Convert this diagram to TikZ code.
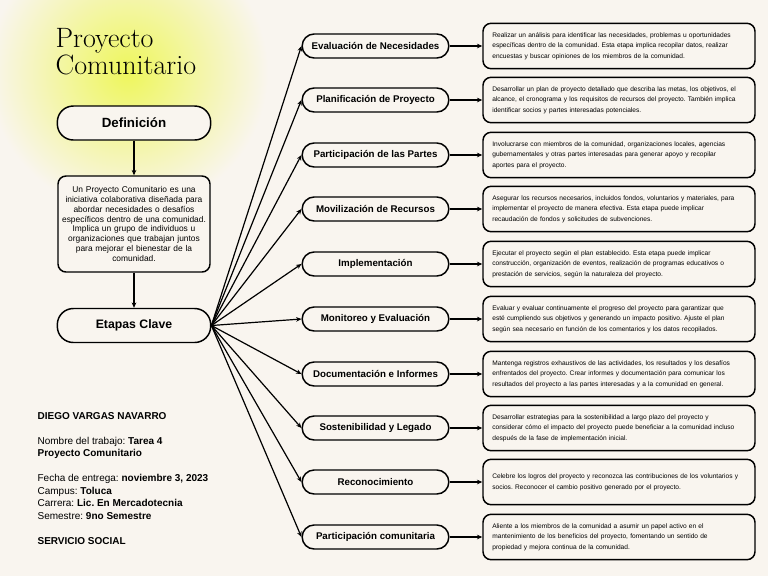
\documentclass[tikz,border=0pt]{standalone}
\usepackage{fontspec}
\setmainfont{Liberation Sans}
\newfontfamily\titlefont{Latin Modern Roman}
\usepackage{xcolor}
\usetikzlibrary{arrows.meta,positioning}

\definecolor{paper}{RGB}{249,245,239}
\definecolor{glow}{RGB}{238,246,92}

\frenchspacing
\begin{document}
\begin{tikzpicture}[
  x=0.75pt, y=-0.75pt,
  line width=0.9pt,
  pill/.style={draw, fill=paper, line width=1.1pt, rounded corners=12pt, minimum width=115pt, minimum height=25.5pt, font=\fontsize{10}{12}\selectfont\bfseries},
  etapa/.style={draw, fill=paper, line width=1.1pt, rounded corners=9pt, minimum width=110pt, minimum height=18pt, inner sep=1pt, font=\fontsize{7.3}{9}\selectfont\bfseries},
  detalle/.style={draw, fill=paper, line width=1.1pt, rounded corners=6pt, minimum width=204pt, minimum height=34pt, text width=190pt, align=left, inner sep=3pt, font=\fontsize{4.95}{8}\selectfont},
  arrow/.style={-{Stealth[length=4pt,width=3.5pt]}}
]
\useasboundingbox (0,0) rectangle (768,576);
\fill[paper] (0,0) rectangle (768,576);
\shade[inner color=glow, outer color=paper] (128,72) circle (140);

% titulo
\node[anchor=north west, align=left, inner sep=0pt, font=\titlefont\fontsize{21}{19.8}\selectfont] (titulo) at (55,28) {Proyecto\\Comunitario};

% columna izquierda
\node[pill] (definicion) at (134,123) {Definición};
\node[draw, fill=paper, line width=1.1pt, rounded corners=6pt, minimum width=114pt, minimum height=72pt, text width=113pt, align=center, inner sep=0.5pt, font=\fontsize{6.3}{7.4}\selectfont] (texto) at (134,224)
  {Un Proyecto Comunitario es una\\iniciativa colaborativa diseñada para\\abordar necesidades o desafíos\\específicos dentro de una comunidad.\\Implica un grupo de individuos u\\organizaciones que trabajan juntos\\para mejorar el bienestar de la\\comunidad.};
\node[pill, font=\fontsize{9.2}{11}\selectfont\bfseries] (etapas) at (134,325.5) {Etapas Clave};

\draw[arrow] (definicion.south) -- (texto.north);
\draw[arrow] (texto.south) -- (etapas.north);

% etapas
\node[etapa] (e1) at (375.5,46) {Evaluación de Necesidades};
\node[etapa] (e2) at (375.5,100) {Planificación de Proyecto};
\node[etapa] (e3) at (375.5,155) {Participación de las Partes};
\node[etapa] (e4) at (375.5,209) {Movilización de Recursos};
\node[etapa] (e5) at (375.5,264) {Implementación};
\node[etapa] (e6) at (375.5,319) {Monitoreo y Evaluación};
\node[etapa] (e7) at (375.5,374) {Documentación e Informes};
\node[etapa] (e8) at (375.5,428) {Sostenibilidad y Legado};
\node[etapa] (e9) at (375.5,482) {Reconocimiento};
\node[etapa] (e10) at (375.5,537) {Participación comunitaria};

% descripciones
\node[detalle] (d1) at (619,46) {Realizar un análisis para identificar las necesidades, problemas u oportunidades\\específicas dentro de la comunidad. Esta etapa implica recopilar datos, realizar\\encuestas y buscar opiniones de los miembros de la comunidad.};
\node[detalle] (d2) at (619,100) {Desarrollar un plan de proyecto detallado que describa las metas, los objetivos, el\\alcance, el cronograma y los requisitos de recursos del proyecto. También implica\\identificar socios y partes interesadas potenciales.};
\node[detalle] (d3) at (619,155) {Involucrarse con miembros de la comunidad, organizaciones locales, agencias\\gubernamentales y otras partes interesadas para generar apoyo y recopilar\\aportes para el proyecto.};
\node[detalle] (d4) at (619,209) {Asegurar los recursos necesarios, incluidos fondos, voluntarios y materiales, para\\implementar el proyecto de manera efectiva. Esta etapa puede implicar\\recaudación de fondos y solicitudes de subvenciones.};
\node[detalle] (d5) at (619,264) {Ejecutar el proyecto según el plan establecido. Esta etapa puede implicar\\construcción, organización de eventos, realización de programas educativos o\\prestación de servicios, según la naturaleza del proyecto.};
\node[detalle] (d6) at (619,319) {Evaluar y evaluar continuamente el progreso del proyecto para garantizar que\\esté cumpliendo sus objetivos y generando un impacto positivo. Ajuste el plan\\según sea necesario en función de los comentarios y los datos recopilados.};
\node[detalle] (d7) at (619,374) {Mantenga registros exhaustivos de las actividades, los resultados y los desafíos\\enfrentados del proyecto. Crear informes y documentación para comunicar los\\resultados del proyecto a las partes interesadas y a la comunidad en general.};
\node[detalle] (d8) at (619,428) {Desarrollar estrategias para la sostenibilidad a largo plazo del proyecto y\\considerar cómo el impacto del proyecto puede beneficiar a la comunidad incluso\\después de la fase de implementación inicial.};
\node[detalle] (d9) at (619,482) {Celebre los logros del proyecto y reconozca las contribuciones de los voluntarios y\\socios. Reconocer el cambio positivo generado por el proyecto.};
\node[detalle] (d10) at (619,537) {Aliente a los miembros de la comunidad a asumir un papel activo en el\\mantenimiento de los beneficios del proyecto, fomentando un sentido de\\propiedad y mejora continua de la comunidad.};

\foreach \i in {1,...,10} {
  \draw[arrow] (etapas.east) -- (e\i.west);
  \draw[arrow] (e\i.east) -- (d\i.west);
}

% datos del alumno
\node[anchor=north west, align=left, inner sep=0pt, font=\fontsize{7.5}{12.8}\selectfont] (datos) at (37,411.5)
  {\textbf{DIEGO VARGAS NAVARRO}\\[6pt]
   Nombre del trabajo: \textbf{Tarea 4}\\[-3.4pt]
   \textbf{Proyecto Comunitario}\\[6pt]
   Fecha de entrega: \textbf{noviembre 3, 2023}\\[-3.4pt]
   Campus: \textbf{Toluca}\\[-3.4pt]
   Carrera: \textbf{Lic. En Mercadotecnia}\\[-3.4pt]
   Semestre: \textbf{9no Semestre}\\[6pt]
   \textbf{SERVICIO SOCIAL}};
\end{tikzpicture}
\end{document}
